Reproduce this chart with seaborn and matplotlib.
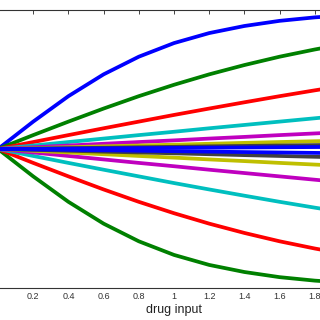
import numpy as np
import pandas as pd
import seaborn as sns
import matplotlib.pyplot as plt

# drug input grid and response curves
drug = [0.0, 0.2, 0.4, 0.6, 0.8, 1.0, 1.2, 1.4, 1.6, 1.8, 2.0]

blue_top = [0, 0.197, 0.380, 0.537, 0.664, 0.762, 0.834, 0.885, 0.922, 0.947, 0.964]
green_top = [0, 0.100, 0.197, 0.291, 0.380, 0.462, 0.537, 0.604, 0.664, 0.716, 0.762]
red_top = [0, 0.050, 0.100, 0.149, 0.197, 0.245, 0.291, 0.336, 0.380, 0.422, 0.462]
cyan_top = [0, 0.025, 0.050, 0.075, 0.100, 0.124, 0.149, 0.173, 0.197, 0.221, 0.245]
magenta_top = [0, 0.0125, 0.025, 0.0375, 0.050, 0.062, 0.075, 0.087, 0.100, 0.112, 0.124]
yellow_top = [0, 0.006, 0.0125, 0.019, 0.025, 0.031, 0.0375, 0.044, 0.050, 0.056, 0.062]
gray_top = [0, 0.003, 0.006, 0.009, 0.0125, 0.0156, 0.019, 0.022, 0.025, 0.028, 0.031]
blue_mid = [0, 0.0016, 0.0031, 0.0047, 0.0062, 0.0078, 0.0094, 0.011, 0.0125, 0.014, 0.0156]

green_bot = [0, -0.197, -0.380, -0.537, -0.664, -0.762, -0.834, -0.885, -0.922, -0.947, -0.964]
red_bot = [0, -0.100, -0.197, -0.291, -0.380, -0.462, -0.537, -0.604, -0.664, -0.716, -0.762]
cyan_bot = [0, -0.050, -0.100, -0.149, -0.197, -0.245, -0.291, -0.336, -0.380, -0.422, -0.462]
magenta_bot = [0, -0.025, -0.050, -0.075, -0.100, -0.124, -0.149, -0.173, -0.197, -0.221, -0.245]
yellow_bot = [0, -0.0125, -0.025, -0.0375, -0.050, -0.062, -0.075, -0.087, -0.100, -0.112, -0.124]
gray_bot = [0, -0.006, -0.0125, -0.019, -0.025, -0.031, -0.0375, -0.044, -0.050, -0.056, -0.062]
blue_bot = [0, -0.003, -0.006, -0.009, -0.0125, -0.0156, -0.019, -0.022, -0.025, -0.028, -0.031]

# the 0 label sits off the crop in the original, so it is left empty
xtick_labels = ['', '0.2', '0.4', '0.6', '0.8', '1', '1.2', '1.4', '1.6', '1.8', '2']

# matlab style colours
B = (0, 0, 1)
G = (0, 0.5, 0)
R = (1, 0, 0)
C = (0, 0.75, 0.75)
M = (0.75, 0, 0.75)
Y = (0.75, 0.75, 0)
K = (0.25, 0.25, 0.25)

curves = [
    (blue_top, B), (green_top, G), (red_top, R), (cyan_top, C),
    (magenta_top, M), (yellow_top, Y), (gray_top, K),
    (green_bot, G), (red_bot, R), (cyan_bot, C), (magenta_bot, M),
    (yellow_bot, Y), (gray_bot, K), (blue_mid, B), (blue_bot, B),
]

sns.set_style("white")
plt.rcParams['font.family'] = ['Liberation Sans', 'DejaVu Sans']

fig = plt.figure(figsize=(3.2, 3.2), dpi=100)
# axes run a little past the picture edges, as in the cropped original
ax = fig.add_axes([-2 / 320, 32 / 320, 352 / 320, 278 / 320])

for vals, col in curves:
    sns.lineplot(x=drug, y=vals, color=col, lw=2.7, ax=ax)

ax.set_xlim(0, 2)
ax.set_ylim(-1, 1)
ax.set_xticks(np.arange(0, 2.01, 0.2))
ax.set_xticklabels(xtick_labels)
ax.set_yticks(np.arange(-1, 1.01, 0.2))
ax.tick_params(direction='in', length=3, width=0.6, top=True, right=True,
               labelsize=6.5, labelcolor='#333333', pad=3)
ax.tick_params(axis='y', labelleft=False)
for s in ax.spines.values():
    s.set_color('#333333')
    s.set_linewidth(0.8)
ax.set_xlabel('drug input', fontsize=9, color='#222222')
ax.xaxis.set_label_coords(0.5, -0.058)

fig.savefig('out.png', dpi=100)
